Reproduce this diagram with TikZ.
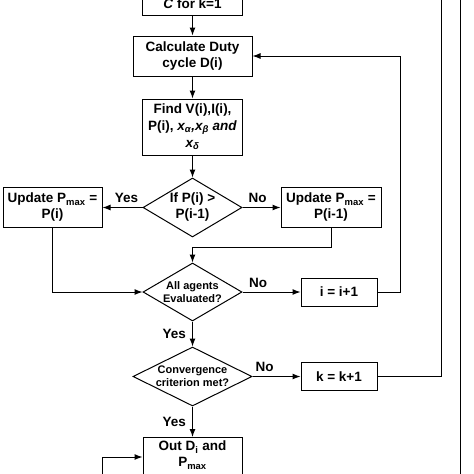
\documentclass[tikz,border=0pt]{standalone}
\usepackage{fontspec}
\setmainfont{Liberation Sans}
\usetikzlibrary{shapes.geometric,arrows.meta}
\begin{document}
\begin{tikzpicture}[x=1pt,y=-1pt,
  every node/.style={font=\bfseries\fontsize{13.5}{16}\selectfont},
  box/.style={draw, line width=1pt, rectangle, inner sep=0pt, align=center},
  dia/.style={draw, line width=1pt, diamond, inner sep=0pt},
  lbl/.style={align=center, inner sep=0pt},
  small/.style={font=\bfseries\fontsize{11}{12.8}\selectfont},
  flow/.style={line width=1pt, -{Latex[length=8pt,width=6pt]}},
  conn/.style={line width=1pt},
  elbl/.style={inner sep=0pt}
]
\useasboundingbox (0,0) rectangle (474,474);
\clip (0,0) rectangle (474,474);

\node[box, minimum width=100pt, minimum height=46pt, anchor=south] (start) at (192.5,16) {};
\node[lbl, anchor=base] (startt) at (192.5,8) {\textit{C} for k=1};
\node[box, minimum width=119pt, minimum height=40pt] (calc) at (192.5,56) {Calculate Duty\\cycle D(i)};
\node[box, minimum width=100pt, minimum height=56pt] (find) at (192.5,127) {Find V(i),I(i),\\[1pt]P(i), \textit{x\textsubscript{α},x\textsubscript{β} and}\\[1pt]\textit{x\textsubscript{δ}}};
\node[dia, minimum width=99pt, minimum height=59pt] (d1) at (192.5,207.5) {};
\node[lbl] (d1t) at (d1) {If P(i) >\\P(i-1)};
\node[box, minimum width=99pt, minimum height=40pt] (upl) at (52.5,207.5) {Update P\textsubscript{max} =\\P(i)};
\node[box, minimum width=100pt, minimum height=40pt] (upr) at (331,207.5) {Update P\textsubscript{max} =\\P(i-1)};
\node[dia, minimum width=99pt, minimum height=58pt] (d2) at (192.5,292) {};
\node[lbl, small] (d2t) at (d2) {All agents\\Evaluated?};
\node[box, minimum width=76pt, minimum height=28pt] (inc) at (339,292) {i = i+1};
\node[dia, minimum width=119pt, minimum height=59pt] (d3) at (192.5,376.5) {};
\node[lbl, small] (d3t) at (d3) {Convergence\\criterion met?};
\node[box, minimum width=76pt, minimum height=28pt] (kinc) at (339,376.5) {k = k+1};
\node[box, minimum width=99pt, minimum height=60pt, anchor=north] (out) at (192.5,437) {};
\node[lbl, anchor=north] (outt) at (192.5,441) {Out D\textsubscript{i} and\\P\textsubscript{max}};

\coordinate (ktop) at (441,-10);
\coordinate (rtop) at (460,-10);
\coordinate (rbot) at (460,490);
\coordinate (lbot) at (102,490);
\coordinate (lin) at (102,457);

\draw[flow] (start.south) -- (calc.north);
\draw[flow] (calc.south) -- (find.north);
\draw[flow] (find.south) -- (d1.north);
\draw[flow] (d1.west) -- node[elbl, above=4pt, pos=0.4]{Yes} (upl.east);
\draw[flow] (d1.east) -- node[elbl, above=4pt, pos=0.4]{No} (upr.west);
\draw[flow] (upl.south) |- (d2.west);
\draw[flow] (upr.south) -- ++(0,19) -| (d2.north);
\draw[flow] (d2.east) -- node[elbl, above=4pt, pos=0.27]{No} (inc.west);
\draw[flow] (inc.east) -- ++(23,0) |- (calc.east);
\draw[flow] (d2.south) -- node[elbl, left=6pt]{Yes} (d3.north);
\draw[flow] (d3.east) -- node[elbl, above=4pt, pos=0.25]{No} (kinc.west);
\draw[conn] (kinc.east) -| (ktop);
\draw[flow] (d3.south) -- node[elbl, left=6pt]{Yes} (out.north);
\draw[conn] (rtop) -- (rbot);
\draw[flow] (lbot) -- (lin) -- (lin -| out.west);
\end{tikzpicture}
\end{document}
